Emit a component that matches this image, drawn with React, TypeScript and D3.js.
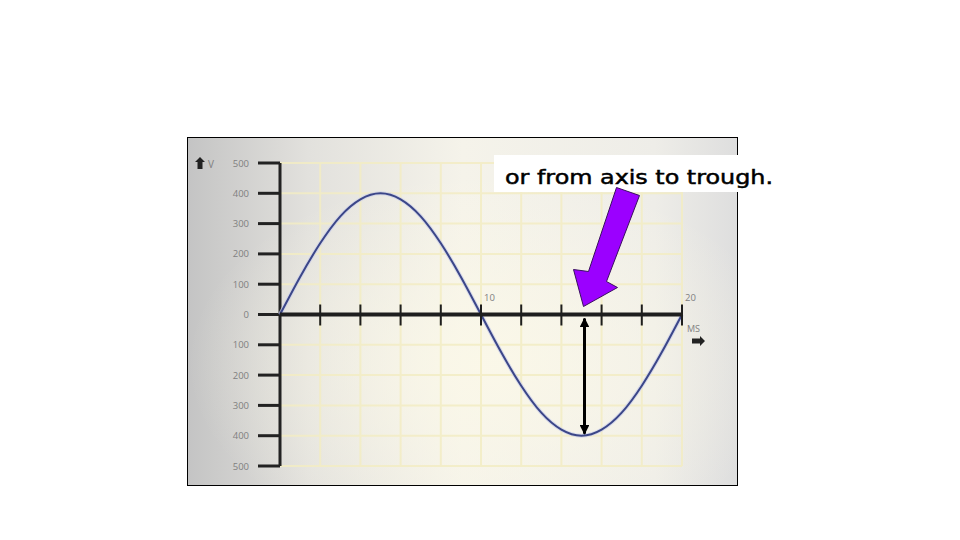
import React from "react";
import * as d3 from "d3";

// waveform, one point per ms
const timeMs = [0, 1, 2, 3, 4, 5, 6, 7, 8, 9, 10, 11, 12, 13, 14, 15, 16, 17, 18, 19, 20];
const volts = [0, 124, 235, 324, 380, 400, 380, 324, 235, 124, 0, -124, -235, -324, -380, -400, -380, -324, -235, -124, 0];

const yTickValues = [500, 400, 300, 200, 100, 0, -100, -200, -300, -400, -500];
const yTickLabels = ["500", "400", "300", "200", "100", "0", "100", "200", "300", "400", "500"];
const xTickValues = [0, 2, 4, 6, 8, 10, 12, 14, 16, 18, 20];
const xLabelValues = [10, 20];
const troughMs = 15;
const troughV = -400;
const calloutText = "or from axis to trough.";

const App: React.FC = () => {
    const x = d3.scaleLinear().domain([0, 20]).range([280, 682]);
    const y = d3.scaleLinear().domain([-500, 500]).range([466, 163]);

    const line = d3
        .line<number>()
        .x((_, i) => x(timeMs[i]))
        .y((d) => y(d))
        .curve(d3.curveNatural);
    const wave = line(volts) || "";

    const tipX = x(troughMs) + 2;
    const tipY = y(0) - 8;
    // purple block arrow, relative to its tip
    const purple = [
        [33, -119], [56, -111], [23, -25], [34, -19], [0, 0], [-10, -37], [5, -35],
    ]
        .map(([dx, dy]) => `${tipX + dx},${tipY + dy}`)
        .join(" ");

    return (
        <svg
            width={960}
            height={540}
            style={{ position: "absolute", left: 0, top: 0, background: "#fff" }}
        >
            <defs>
                <linearGradient id="bg" x1="0" y1="0" x2="1" y2="0">
                    <stop offset="0" stopColor="#c4c4c4" />
                    <stop offset="0.22" stopColor="#e2e1dd" />
                    <stop offset="0.5" stopColor="#f5f3ea" />
                    <stop offset="0.85" stopColor="#eeede8" />
                    <stop offset="1" stopColor="#dedede" />
                </linearGradient>
                <radialGradient id="glow" cx="0.55" cy="0.65" r="0.55">
                    <stop offset="0" stopColor="#fbf8e8" stopOpacity={0.9} />
                    <stop offset="1" stopColor="#fbf8e8" stopOpacity={0} />
                </radialGradient>
                <marker id="ah" viewBox="0 0 10 10" refX="9" refY="5" markerWidth="3.2" markerHeight="3.2" orient="auto-start-reverse">
                    <path d="M0,0 L10,5 L0,10 z" fill="#000" />
                </marker>
            </defs>

            {/* frame */}
            <rect x={187.5} y={137.5} width={550} height={348} fill="url(#bg)" stroke="#000" strokeWidth={1} />
            <rect x={188} y={138} width={549} height={347} fill="url(#glow)" />

            {/* grid */}
            <g stroke="#f3edc4" strokeWidth={2} opacity={0.85}>
                {xTickValues.slice(1).map((t) => (
                    <line key={"gv" + t} x1={x(t)} x2={x(t)} y1={y(500)} y2={y(-500)} />
                ))}
                {yTickValues.filter((v) => v !== 0).map((v) => (
                    <line key={"gh" + v} x1={x(0)} x2={x(20)} y1={y(v)} y2={y(v)} />
                ))}
            </g>

            {/* y axis */}
            <line x1={x(0)} x2={x(0)} y1={y(500)} y2={y(-500)} stroke="#222" strokeWidth={3} />
            {yTickValues.map((v, i) => (
                <g key={"yt" + v + i}>
                    <line x1={258} x2={x(0)} y1={y(v)} y2={y(v)} stroke="#222" strokeWidth={3} />
                    <text
                        x={249}
                        y={y(v) + 3.5}
                        textAnchor="end"
                        fontFamily="Open Sans, sans-serif"
                        fontSize={9.5}
                        fill="#808080"
                    >
                        {yTickLabels[i]}
                    </text>
                </g>
            ))}
            <text x={208} y={168} fontFamily="Open Sans, sans-serif" fontSize={10} fill="#808080">V</text>
            <path d="M200,157 L205,162 L202.5,162 L202.5,169 L197.5,169 L197.5,162 L195,162 Z" fill="#222" />

            {/* wave */}
            <path d={wave} fill="none" stroke="#c9cdea" strokeWidth={4} opacity={0.7} />
            <path d={wave} fill="none" stroke="#3b4688" strokeWidth={2} />

            {/* x axis */}
            <line x1={x(0)} x2={x(20)} y1={y(0)} y2={y(0)} stroke="#1e1e1e" strokeWidth={4} />
            {xTickValues.slice(1).map((t) => (
                <line key={"xt" + t} x1={x(t)} x2={x(t)} y1={y(0) - 10} y2={y(0) + 11} stroke="#1e1e1e" strokeWidth={2} />
            ))}
            {xLabelValues.map((t) => (
                <text
                    key={"xl" + t}
                    x={x(t) + 3}
                    y={y(0) - 14}
                    fontFamily="Open Sans, sans-serif"
                    fontSize={9.5}
                    fill="#808080"
                >
                    {t}
                </text>
            ))}
            <text x={687} y={332} fontFamily="Open Sans, sans-serif" fontSize={9} fill="#808080">MS</text>
            <path d="M692,338.5 L700,338.5 L700,336 L705,341 L700,346 L700,343.5 L692,343.5 Z" fill="#222" />

            {/* amplitude arrow */}
            <line
                x1={x(troughMs) + 3}
                x2={x(troughMs) + 3}
                y1={y(0) + 4}
                y2={y(troughV) - 2}
                stroke="#000"
                strokeWidth={3}
                markerStart="url(#ah)"
                markerEnd="url(#ah)"
            />

            {/* callout */}
            <rect x={494} y={155} width={300} height={37} fill="#fff" />
            <text
                x={505}
                y={184}
                fontFamily="Comic Sans MS, DejaVu Sans, sans-serif"
                fontSize={20}
                textLength={268}
                lengthAdjust="spacingAndGlyphs"
                fill="#000"
                stroke="#000"
                strokeWidth={0.5}
            >
                {calloutText}
            </text>
            <polygon points={purple} fill="#9b00ff" stroke="#3a1060" strokeWidth={1} />
        </svg>
    );
};

export default App;
